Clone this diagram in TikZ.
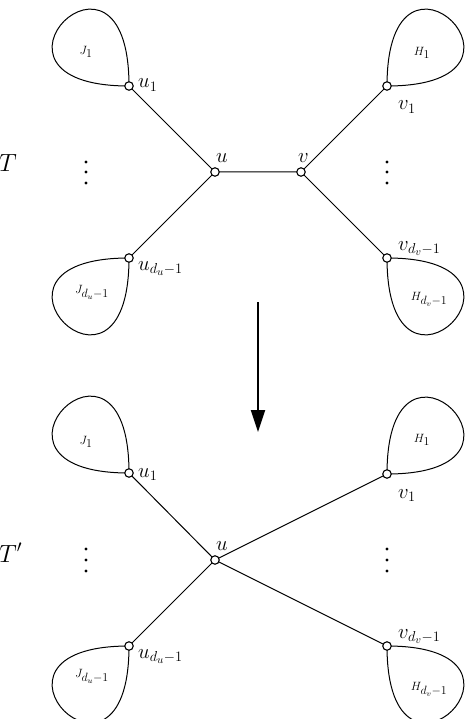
\documentclass[tikz,border=0pt]{standalone}
\usetikzlibrary{arrows.meta,backgrounds}
\begin{document}
\begin{tikzpicture}[x=1pt,y=-1pt,
  vtx/.style={circle,draw,fill=white,line width=1.1pt,minimum size=8.5pt,inner sep=0pt},
  lbl/.style={font=\fontsize{22}{26}\selectfont,inner sep=0pt,anchor=base west},
  sub/.style={font=\fontsize{12}{14}\selectfont,inner sep=0pt},
  big/.style={font=\fontsize{25}{30}\selectfont,inner sep=0pt,anchor=base west},
  edge/.style={line width=1pt},
  dotc/.style={fill=black}]
\useasboundingbox (0,0) rectangle (474,719);
% top tree T
\node[vtx] (u1) at (129,86) {};
\node[vtx] (u) at (215,172) {};
\node[vtx] (v) at (301,172) {};
\node[vtx] (v1) at (387,86) {};
\node[vtx] (ud) at (129,258) {};
\node[vtx] (vd) at (387,258) {};
% bottom tree T'
\node[vtx] (bu1) at (129,473) {};
\node[vtx] (bu) at (215,560) {};
\node[vtx] (bv1) at (387,474) {};
\node[vtx] (bud) at (129,646) {};
\node[vtx] (bvd) at (387,646) {};
\begin{pgfonlayer}{background}
\draw[edge] (u1.center) -- (u.center) -- (v.center) -- (v1.center);
\draw[edge] (ud.center) -- (u.center);
\draw[edge] (v.center) -- (vd.center);
\draw[edge] (u1.center) .. controls +(0,-173) and +(-173,0) .. (u1.center);
\draw[edge] (ud.center) .. controls +(-173,0) and +(0,173) .. (ud.center);
\draw[edge] (v1.center) .. controls +(173,0) and +(0,-173) .. (v1.center);
\draw[edge] (vd.center) .. controls +(0,173) and +(173,0) .. (vd.center);
\draw[edge] (bu1.center) -- (bu.center) -- (bv1.center);
\draw[edge] (bud.center) -- (bu.center) -- (bvd.center);
\draw[edge] (bu1.center) .. controls +(0,-173) and +(-173,0) .. (bu1.center);
\draw[edge] (bud.center) .. controls +(-173,0) and +(0,173) .. (bud.center);
\draw[edge] (bv1.center) .. controls +(173,0) and +(0,-173) .. (bv1.center);
\draw[edge] (bvd.center) .. controls +(0,173) and +(173,0) .. (bvd.center);
\end{pgfonlayer}
% labels top
\node[big] (T) at (-1,172) {$T$};
\node[lbl] (lu1) at (138,88) {$u_1$};
\node[lbl] (lu) at (216,163) {$u$};
\node[lbl] (lv) at (298,163) {$v$};
\node[lbl] (lv1) at (398,110) {$v_1$};
\node[lbl] (lud) at (138,270) {$u_{d_u-1}$};
\node[lbl] (lvd) at (398,250) {$v_{d_v-1}$};
\node[sub] (J1) at (86,52) {$J_{\textstyle 1}$};
\node[sub] (Jd) at (92,292) {$J_{\textstyle d_u{-}1}$};
\node[sub] (H1) at (422,53) {$H_{\textstyle 1}$};
\node[sub] (Hd) at (429,299) {$H_{\textstyle d_v{-}1}$};
\foreach \yy in {162,172,183} {
  \fill[dotc] (86,\yy) circle (1.7);
  \fill[dotc] (387,\yy) circle (1.7);
}
% labels bottom
\node[big] (Tp) at (-1,562) {$T'$};
\node[lbl] (blu1) at (138,477) {$u_1$};
\node[lbl] (blu) at (216,550) {$u$};
\node[lbl] (blv1) at (398,498) {$v_1$};
\node[lbl] (blud) at (138,658) {$u_{d_u-1}$};
\node[lbl] (blvd) at (398,638) {$v_{d_v-1}$};
\node[sub] (bJ1) at (86,442) {$J_{\textstyle 1}$};
\node[sub] (bJd) at (92,676) {$J_{\textstyle d_u{-}1}$};
\node[sub] (bH1) at (422,440) {$H_{\textstyle 1}$};
\node[sub] (bHd) at (429,689) {$H_{\textstyle d_v{-}1}$};
\foreach \yy in {549,560,571} {
  \fill[dotc] (86,\yy) circle (1.7);
  \fill[dotc] (387,\yy) circle (1.7);
}
% arrow
\coordinate (as) at (258,302);
\coordinate (ae) at (258,432);
\draw[line width=2pt,-{Triangle[length=22pt,width=14pt]}] (as) -- (ae);
\end{tikzpicture}
\end{document}
